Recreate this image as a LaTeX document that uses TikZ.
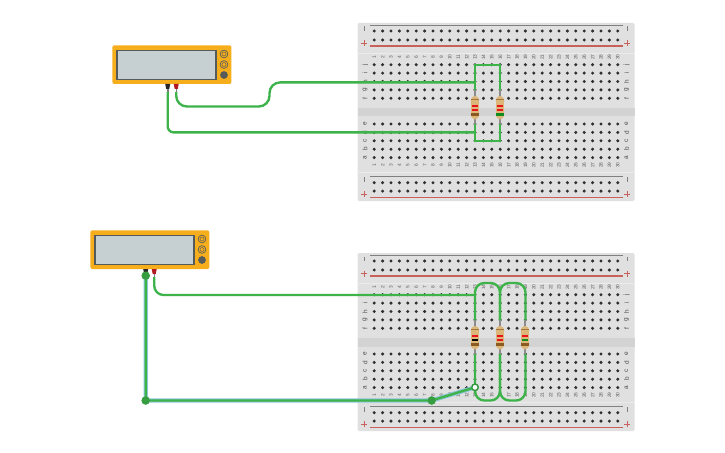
\documentclass[tikz,border=0pt]{standalone}
\usepackage{fontspec}
\setmainfont{Liberation Sans}
\definecolor{boardc}{HTML}{E0E0E0}
\definecolor{chanc}{HTML}{D3D3D3}
\definecolor{holec}{HTML}{2E2E2E}
\definecolor{wirec}{HTML}{3DB34A}
\definecolor{tealc}{HTML}{8CC4D8}
\definecolor{meterc}{HTML}{F6AE1C}
\definecolor{screenc}{HTML}{C6CFD1}
\definecolor{framec}{HTML}{555A5A}
\definecolor{tanc}{HTML}{DDB77A}
\definecolor{bandred}{HTML}{E8141C}
\definecolor{bandbrown}{HTML}{8A5A20}
\definecolor{bandgreen}{HTML}{118A1E}
\definecolor{redline}{HTML}{C8605C}
\definecolor{probered}{HTML}{B3191F}
\tikzset{
  x=0.75pt,y=-0.75pt,
  wire/.style={draw=wirec,line width=1.75pt,line join=round,rounded corners=4.5pt},
  wirewide/.style={draw=tealc,line width=3.2pt},
  wiretop/.style={draw=wirec,line width=1.75pt},
  lbl/.style={font=\fontsize{3.6}{4}\selectfont,text=black!65,inner sep=0pt,rotate=90},
  rowlbl/.style={font=\fontsize{4.8}{5}\selectfont,text=black!70,inner sep=0pt,rotate=90},
  dotg/.style={circle,fill=wirec!88!black,minimum size=6.2pt,inner sep=0pt},
  dotopen/.style={circle,fill=white,draw=wirec!85!black,line width=1pt,minimum size=4.8pt,inner sep=0pt},
}
\newcommand{\bboard}[1]{
 \begin{scope}[yshift=-0.75pt*#1]
  \fill[boardc,rounded corners=1pt] (357.5,23) rectangle (634.5,201);
  \fill[chanc] (357.5,108) rectangle (634.5,116.5);
  \draw[white!92!black,line width=.5pt] (357.5,53) -- (634.5,53);
  \draw[white!92!black,line width=.5pt] (357.5,172) -- (634.5,172);
  \draw[black!50,line width=1pt] (370,25.8) -- (622.5,25.8);
  \draw[redline,line width=1pt] (370,46) -- (622.5,46);
  \draw[black!50,line width=1pt] (370,176.8) -- (622.5,176.8);
  \draw[redline,line width=1pt] (370,197.2) -- (622.5,197.2);
  \foreach \xx in {364,627}{
   \draw[black!50,line width=.6pt] (\xx,26.5) -- (\xx,31);
   \draw[redline,line width=.7pt] (\xx-3,43.5) -- (\xx+3,43.5) (\xx,40.5) -- (\xx,46.5);
   \draw[black!50,line width=.6pt] (\xx,177) -- (\xx,181.5);
   \draw[redline,line width=.7pt] (\xx-3,194) -- (\xx+3,194) (\xx,191) -- (\xx,197);
  }
  \foreach \c in {1,...,30}{
   \pgfmathsetmacro{\cx}{374.2+(\c-1)*8.4}
   \foreach \ry in {31,40,64.7,73.1,81.5,89.9,98.3,124,132.4,140.8,149.2,157.6,182.7,191.1}{
     \fill[holec] (\cx,\ry) circle[radius=1.25pt];
   }
   \node[lbl] at (\cx,57) {\c};
   \node[lbl] at (\cx,165) {\c};
  }
  \foreach \ry/\t in {64.7/j,73.1/i,81.5/h,89.9/g,98.3/f,124/e,132.4/d,140.8/c,149.2/b,157.6/a}{
   \node[rowlbl] at (365,\ry) {\t};
   \node[rowlbl] at (626.5,\ry) {\t};
  }
 \end{scope}
}
\newcommand{\mmeter}[2]{
 \begin{scope}[xshift=0.75pt*#1,yshift=-0.75pt*#2]
  \fill[meterc,rounded corners=1.5pt] (112.4,45.3) rectangle (231.4,84);
  \draw[framec,fill=screenc,line width=1pt] (117,50.5) rectangle (216,79.5);
  \foreach \by in {54,64.5}{
    \draw[framec,line width=.5pt] (224,\by) circle[radius=2.9pt];
    \draw[framec,line width=.35pt] (224,\by) circle[radius=1.5pt];
  }
  \fill[framec] (224,75) circle[radius=2.9pt];
  \fill[black!85] (165.2,84) -- (170.2,84) -- (169.2,89) -- (166.2,89) -- cycle;
  \fill[black!50] (167,89) rectangle (168.5,92);
  \fill[probered] (173.7,84) -- (178.7,84) -- (177.7,89) -- (174.7,89) -- cycle;
  \fill[black!50] (175.5,89) rectangle (177,92);
 \end{scope}
}
\newcommand{\rres}[5]{
 \begin{scope}[xshift=0.75pt*#1,yshift=-0.75pt*#2]
  \draw[black!45,line width=1pt] (0,90) -- (0,124);
  \fill[tanc] (0,100.7) ellipse[x radius=3.2pt,y radius=3.6pt];
  \fill[tanc] (0,114.6) ellipse[x radius=3.2pt,y radius=3.6pt];
  \fill[tanc] (-3.6,100) rectangle (3.6,115);
  \fill[#3] (-3.3,104.6) rectangle (3.3,106.9);
  \fill[#4] (-3.3,108.6) rectangle (3.3,110.9);
  \fill[#5] (-3.9,113.2) rectangle (3.9,115.7);
  \fill[bandbrown!70!tanc] (-3.6,99.3) rectangle (3.6,99.9);
 \end{scope}
}
\begin{document}
\begin{tikzpicture}
\useasboundingbox (0,0) rectangle (725,453);
\fill[white] (0,0) rectangle (725,453);
\bboard{0}
\bboard{230}
\mmeter{0}{0}
\mmeter{-22}{185}
\rres{475}{0}{bandred}{bandred}{bandbrown}
\rres{500}{0}{bandred}{bandred}{bandgreen}
\rres{475}{230}{bandred}{black}{bandbrown}
\rres{500}{230}{bandred}{bandred}{bandbrown}
\rres{525}{230}{bandred}{bandgreen}{bandbrown}
% top circuit
\coordinate (b1) at (167.7,92);
\coordinate (r1) at (176.2,92);
\coordinate (ja) at (475,82.4);
\coordinate (jb) at (475,132.4);
\coordinate (ra1) at (475,90);
\coordinate (ra2) at (500,90);
\coordinate (rb1) at (475,124);
\coordinate (rb2) at (500,124);
\draw[wire] (b1) -- (167.7,132.4) -- (jb);
\draw[wire,rounded corners=8pt] (r1) -- (176.2,106.5) -- (269.5,106.5) -- (269.5,82.4) -- (ja);
\draw[wiretop,line join=miter] (ra1) -- (475,65) -- (500,65) -- (ra2);
\draw[wiretop,line join=miter] (rb1) -- (475,140.8) -- (500,140.8) -- (rb2);
% bottom circuit
\coordinate (b2) at (145.7,277);
\coordinate (r2) at (154.2,277);
\coordinate (wj) at (475,295);
\coordinate (sa) at (475,320);
\coordinate (sb) at (500,320);
\coordinate (sc) at (525.5,320);
\coordinate (ta) at (475,354);
\coordinate (tb) at (500,354);
\coordinate (tc) at (525.5,354);
\draw[wire,rounded corners=7pt] (r2) -- (154.2,295) -- (wj);
\draw[wire,rounded corners=7pt] (sa) -- (475,283) -- (500,283) -- (sb);
\draw[wire,rounded corners=7pt] (sb) -- (500,283) -- (525.5,283) -- (sc);
\draw[wire,rounded corners=7pt] (ta) -- (475,400.5) -- (500,400.5) -- (tb);
\draw[wire,rounded corners=7pt] (tb) -- (500,400.5) -- (525.5,400.5) -- (tc);
\node[dotg] (d1) at (145.7,275.7) {};
\node[dotg] (d2) at (145.7,400.5) {};
\node[dotg] (d3) at (431.7,400.5) {};
\node[dotopen] (d4) at (475,387.3) {};
\draw[wirewide] (d1.center) -- (d2.center) -- (d3.center) -- (d4.center);
\draw[wiretop] (d1.center) -- (d2.center) -- (d3.center) -- (d4.center);
\node[dotg] at (d1) {};
\node[dotg] at (d2) {};
\node[dotg] at (d3) {};
\node[dotopen] at (d4) {};
\end{tikzpicture}
\end{document}
